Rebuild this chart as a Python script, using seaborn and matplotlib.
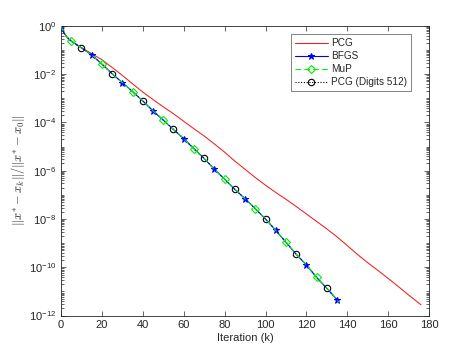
import numpy as np
import pandas as pd
import matplotlib
matplotlib.use("Agg")
import matplotlib.pyplot as plt
import seaborn as sns
from matplotlib.ticker import LogLocator, FixedLocator, NullFormatter

# ---- data (log10 of relative error, negated) ----
bfgs_iter = [0, 1, 2, 3, 4, 5, 10, 15, 20, 25, 30, 35, 40, 45, 50, 55, 60, 65, 70,
             75, 80, 85, 90, 95, 100, 105, 110, 115, 120, 125, 130, 135, 136]
bfgs_neglog = [0, 0.22, 0.36, 0.47, 0.56, 0.63, 0.91, 1.2, 1.58, 1.98, 2.35, 2.72, 3.11,
               3.52, 3.9, 4.29, 4.67, 5.09, 5.49, 5.94, 6.35, 6.77, 7.16, 7.57, 8.0,
               8.47, 8.96, 9.46, 9.9, 10.42, 10.87, 11.35, 11.45]
mup_iter = list(bfgs_iter)
mup_neglog = list(bfgs_neglog)
pcg512_iter = list(bfgs_iter)
pcg512_neglog = list(bfgs_neglog)

pcg_iter = [0, 1, 2, 3, 4, 5, 10, 15, 20, 25, 30, 35, 40, 45, 50, 55, 60, 65, 70, 75,
            80, 85, 90, 95, 100, 105, 110, 115, 120, 125, 130, 135, 140, 145, 150,
            155, 160, 165, 170, 176]
pcg_neglog = [0, 0.22, 0.36, 0.47, 0.56, 0.62, 0.9, 1.15, 1.4, 1.72, 2.05, 2.4, 2.74,
              3.05, 3.35, 3.64, 3.95, 4.26, 4.56, 4.89, 5.23, 5.6, 5.94, 6.28, 6.6, 6.9,
              7.18, 7.48, 7.79, 8.1, 8.41, 8.74, 9.1, 9.47, 9.81, 10.13, 10.46, 10.8,
              11.15, 11.55]

x_ticks = [0, 20, 40, 60, 80, 100, 120, 140, 160, 180]
y_tick_exps = [0, -2, -4, -6, -8, -10, -12]

def frame(it, nl):
    return pd.DataFrame({"k": it, "err": [10.0 ** (-v) for v in nl]})

sns.set_style("ticks")
plt.rcParams["font.family"] = ["Liberation Sans", "DejaVu Sans"]
plt.rcParams["mathtext.fontset"] = "cm"

fig = plt.figure(figsize=(4.74, 3.55), dpi=100)
ax = fig.add_axes([0.1287, 0.111, 0.7766, 0.816])

sns.lineplot(data=frame(pcg_iter, pcg_neglog), x="k", y="err", ax=ax,
             color="#f41c1c", lw=0.75, label="PCG", zorder=2)
mk_b = [i for i, k in enumerate(bfgs_iter) if k % 15 == 0]
sns.lineplot(data=frame(bfgs_iter, bfgs_neglog), x="k", y="err", ax=ax,
             color="#0000ff", lw=0.8, marker="*", markersize=4.5, markevery=mk_b,
             markeredgecolor="#0000ff", label="BFGS", zorder=3)
mk_m = [i for i, k in enumerate(mup_iter) if k % 15 == 5]
sns.lineplot(data=frame(mup_iter, mup_neglog), x="k", y="err", ax=ax,
             color="#00ee00", lw=0.8, linestyle=(0, (5, 3)), marker="D", markersize=3.6,
             markevery=mk_m, markerfacecolor="none", markeredgecolor="#00ee00",
             markeredgewidth=0.8, label="MuP", zorder=4)
mk_c = [i for i, k in enumerate(pcg512_iter) if k % 15 == 10]
sns.lineplot(data=frame(pcg512_iter, pcg512_neglog), x="k", y="err", ax=ax,
             color="black", lw=0.8, linestyle=(0, (1, 1.5)), marker="o", markersize=4.6,
             markevery=mk_c, markerfacecolor="none", markeredgecolor="black",
             markeredgewidth=0.8, label="PCG (Digits 512)", zorder=2.5)

ax.set_yscale("log")
ax.set_xlim(0, 180)
ax.set_ylim(1e-12, 1)
ax.xaxis.set_major_locator(FixedLocator(x_ticks))
ax.yaxis.set_major_locator(FixedLocator([10.0 ** e for e in y_tick_exps]))
ax.yaxis.set_minor_locator(LogLocator(base=10, subs=np.arange(1, 10), numticks=30))
ax.yaxis.set_minor_formatter(NullFormatter())
ax.tick_params(direction="in", which="both", top=True, right=True,
               labelsize=8, colors="#262626", width=0.5)
ax.tick_params(which="major", length=3.5)
ax.tick_params(which="minor", length=2)
for s in ax.spines.values():
    s.set_linewidth(0.6)
    s.set_color("#262626")

ax.set_xlabel("Iteration (k)", fontsize=8, color="#262626", labelpad=2)
ax.set_ylabel(r"$\|x^{*}-x_k\|/\|x^{*}-x_0\|$", fontsize=9, color="#262626", labelpad=1)

leg = ax.legend(loc="upper right", bbox_to_anchor=(0.951, 0.972), fontsize=7.2,
                frameon=True, fancybox=False, edgecolor="#262626",
                handlelength=3.3, borderpad=0.4, labelspacing=0.3, handletextpad=0.35,
                borderaxespad=0)
leg.get_frame().set_linewidth(0.5)
leg.set_zorder(10)

fig.savefig("out.png", dpi=100, facecolor="white")
